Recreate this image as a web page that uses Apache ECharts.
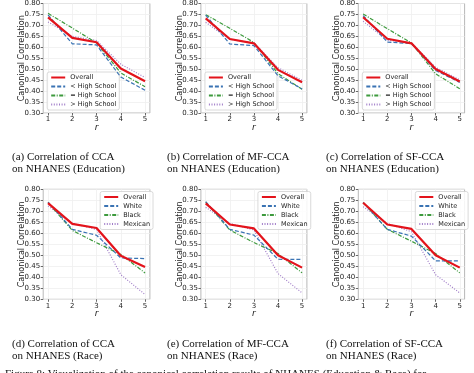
<!DOCTYPE html>
<html>
<head>
<meta charset="utf-8">
<script src="https://cdn.jsdelivr.net/npm/echarts@6/dist/echarts.min.js"></script>
<style>
html,body{margin:0;padding:0;background:#fff;}
#c{width:474px;height:373px;}
</style>
</head>
<body>
<div id="c"></div>
<script>
// ---- data ----
const ranks = [1, 2, 3, 4, 5];
const yTickMin = 0.30, yTickMax = 0.80, yTickStep = 0.05;

const eduNames = ['Overall', '< High School', '= High School', '> High School'];
const raceNames = ['Overall', 'White', 'Black', 'Mexican'];

// (a) CCA, Education
const cca_edu_overall = [0.737, 0.643, 0.623, 0.503, 0.445];
const cca_edu_lessHS  = [0.748, 0.616, 0.611, 0.464, 0.404];
const cca_edu_eqHS    = [0.755, 0.688, 0.620, 0.483, 0.420];
const cca_edu_moreHS  = [0.716, 0.650, 0.631, 0.523, 0.462];
// (b) MF-CCA, Education
const mf_edu_overall = [0.732, 0.638, 0.618, 0.497, 0.440];
const mf_edu_lessHS  = [0.747, 0.615, 0.608, 0.470, 0.410];
const mf_edu_eqHS    = [0.749, 0.687, 0.622, 0.480, 0.408];
const mf_edu_moreHS  = [0.714, 0.636, 0.620, 0.507, 0.449];
// (c) SF-CCA, Education
const sf_edu_overall = [0.737, 0.639, 0.618, 0.501, 0.444];
const sf_edu_lessHS  = [0.745, 0.624, 0.617, 0.494, 0.440];
const sf_edu_eqHS    = [0.752, 0.685, 0.620, 0.479, 0.411];
const sf_edu_moreHS  = [0.719, 0.632, 0.620, 0.509, 0.451];
// (d) CCA, Race
const cca_race_overall = [0.737, 0.643, 0.624, 0.498, 0.447];
const cca_race_white   = [0.742, 0.618, 0.591, 0.488, 0.485];
const cca_race_black   = [0.740, 0.613, 0.557, 0.504, 0.420];
const cca_race_mexican = [0.724, 0.646, 0.617, 0.412, 0.322];
// (e) MF-CCA, Race
const mf_race_overall = [0.736, 0.640, 0.622, 0.500, 0.444];
const mf_race_white   = [0.744, 0.618, 0.592, 0.482, 0.481];
const mf_race_black   = [0.742, 0.615, 0.558, 0.508, 0.420];
const mf_race_mexican = [0.718, 0.645, 0.615, 0.417, 0.329];
// (f) SF-CCA, Race
const sf_race_overall = [0.739, 0.640, 0.620, 0.500, 0.444];
const sf_race_white   = [0.740, 0.618, 0.587, 0.475, 0.475];
const sf_race_black   = [0.740, 0.618, 0.564, 0.508, 0.420];
const sf_race_mexican = [0.721, 0.645, 0.607, 0.412, 0.329];

const captions = [
  '(a) Correlation of CCA\non NHANES (Education)',
  '(b) Correlation of MF-CCA\non NHANES (Education)',
  '(c) Correlation of SF-CCA\non NHANES (Education)',
  '(d) Correlation of CCA\non NHANES (Race)',
  '(e) Correlation of MF-CCA\non NHANES (Race)',
  '(f) Correlation of SF-CCA\non NHANES (Race)'
];
const figureCaption = 'Figure 8: Visualization of the canonical correlation results of NHANES (Education & Race) for';
const yAxisTitle = 'Canonical Correlation';
const xAxisTitle = 'r';

// ---- layout ----
const panels = [
  {names: eduNames,  data: [cca_edu_overall, cca_edu_lessHS, cca_edu_eqHS, cca_edu_moreHS]},
  {names: eduNames,  data: [mf_edu_overall, mf_edu_lessHS, mf_edu_eqHS, mf_edu_moreHS]},
  {names: eduNames,  data: [sf_edu_overall, sf_edu_lessHS, sf_edu_eqHS, sf_edu_moreHS]},
  {names: raceNames, data: [cca_race_overall, cca_race_white, cca_race_black, cca_race_mexican]},
  {names: raceNames, data: [mf_race_overall, mf_race_white, mf_race_black, mf_race_mexican]},
  {names: raceNames, data: [sf_race_overall, sf_race_white, sf_race_black, sf_race_mexican]}
];
const colLeft = [43.2, 200.9, 358.3];
const colWidth = [106.7, 106.0, 106.3];
const rowTop = [2, 189.3];
const rowHeight = [111, 110];

const styles = [
  {color: '#e3131b', width: 2.2, type: 'solid'},
  {color: '#3a73b3', width: 1.2, type: [4, 2]},
  {color: '#3d9a3d', width: 1.2, type: [4, 1.5, 1, 1.5]},
  {color: '#a07cc8', width: 1.2, type: [1, 1.6]}
];

const sans = 'DejaVu Sans';
const serif = 'Liberation Serif';

const grids = [], xAxes = [], yAxes = [], series = [], legends = [], titles = [];
panels.forEach((p, k) => {
  const r = Math.floor(k / 3), c = k % 3;
  grids.push({
    left: colLeft[c], top: rowTop[r], width: colWidth[c], height: rowHeight[r],
    show: true, borderColor: '#b8b8b8', borderWidth: 1, containLabel: false
  });
  xAxes.push({
    gridIndex: k, type: 'value', min: 0.8, max: 5.2,
    axisLine: {show: false},
    axisTick: {show: true, customValues: ranks, length: 2.5, lineStyle: {color: '#444', width: 0.8}},
    axisLabel: {customValues: ranks, fontSize: 7, fontFamily: sans, color: '#222', margin: 3},
    splitLine: {show: true, lineStyle: {color: '#efefef', width: 0.8}},
    name: xAxisTitle, nameLocation: 'middle', nameGap: 10, nameMoveOverlap: false,
    nameTextStyle: {fontSize: 9, fontStyle: 'italic', fontFamily: sans, color: '#222'}
  });
  yAxes.push({
    gridIndex: k, type: 'value', min: yTickMin, max: yTickMax, interval: yTickStep,
    axisLine: {show: false},
    axisTick: {show: true, length: 2.5, lineStyle: {color: '#444', width: 0.8}},
    axisLabel: {fontSize: 7, fontFamily: sans, color: '#222', margin: 3,
      formatter: v => v.toFixed(2)},
    splitLine: {show: true, lineStyle: {color: '#efefef', width: 0.8}},
    name: yAxisTitle, nameLocation: 'middle', nameGap: 17, nameRotate: 90, nameMoveOverlap: false,
    nameTextStyle: {fontSize: 8, fontFamily: sans, color: '#222'}
  });
  p.names.forEach((nm, j) => {
    series.push({
      type: 'line', name: nm, xAxisIndex: k, yAxisIndex: k,
      data: ranks.map((x, i) => [x, p.data[j][i]]),
      symbol: 'none', silent: true, animation: false, z: 10 - j,
      lineStyle: {color: styles[j].color, width: styles[j].width, type: styles[j].type},
      itemStyle: {color: styles[j].color}
    });
  });
  const legendPos = r === 0
    ? {left: colLeft[c] + 4, top: 72}
    : {left: colLeft[c] + 57, top: 191.5};
  legends.push(Object.assign({
    data: p.names, orient: 'vertical', selectedMode: false,
    itemWidth: 14, itemHeight: 6, itemGap: 2,
    padding: [2, 3, 2, 3],
    borderColor: '#d0d0d0', borderWidth: 0.8, borderRadius: 2,
    backgroundColor: 'rgba(255,255,255,0.85)',
    itemStyle: {opacity: 0},
    textStyle: {fontSize: 6.5, fontFamily: sans, color: '#222'}
  }, legendPos));
  titles.push({
    text: captions[k],
    left: [7, 162, 321][c], top: r === 0 ? 146 : 333,
    textStyle: {fontFamily: serif, fontSize: 11, fontWeight: 'normal', color: '#111', lineHeight: 12}
  });
});
titles.push({
  text: figureCaption, left: 0, top: 364,
  textStyle: {fontFamily: serif, fontSize: 11, fontWeight: 'normal', color: '#111'}
});

const chart = echarts.init(document.getElementById('c'), null, {renderer: 'canvas'});
chart.setOption({
  animation: false,
  backgroundColor: '#fff',
  title: titles,
  legend: legends,
  grid: grids,
  xAxis: xAxes,
  yAxis: yAxes,
  series: series
});
</script>
</body>
</html>
